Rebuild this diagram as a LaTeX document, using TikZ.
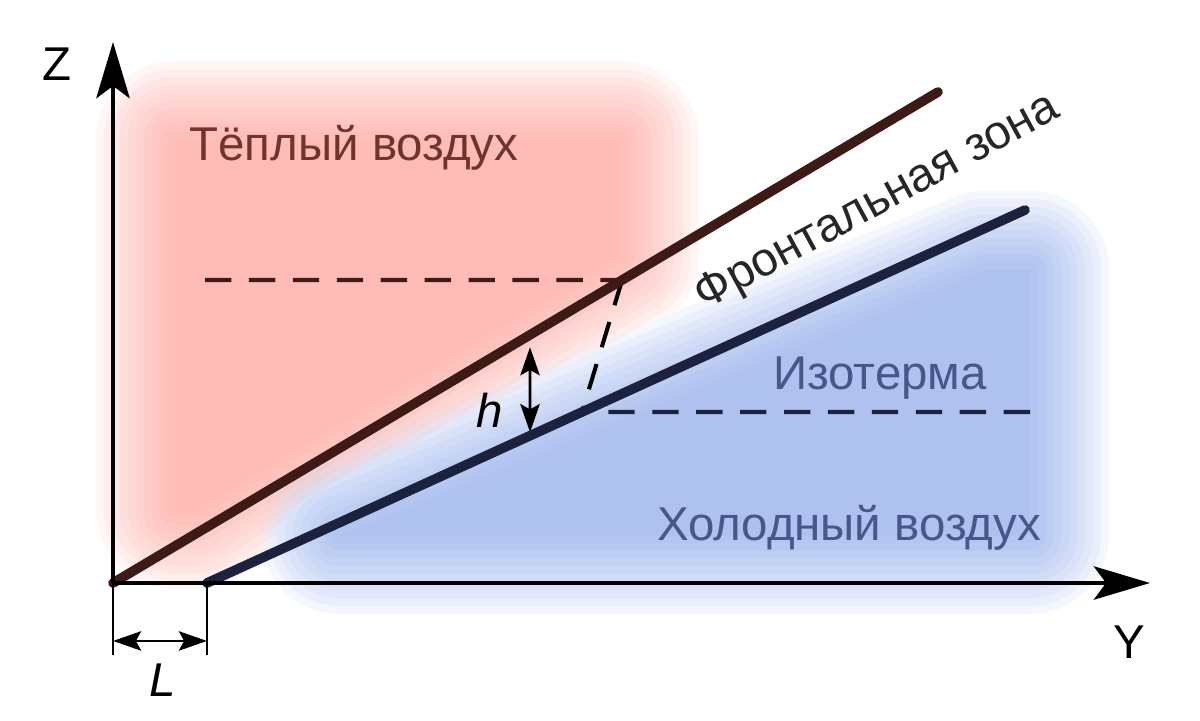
\documentclass[tikz,border=0pt]{standalone}
\usepackage{fontspec}
\setmainfont{Liberation Sans}
\usepackage{tikz}
\usetikzlibrary{arrows.meta}
\usepackage{xcolor}
\definecolor{warmair}{RGB}{255,140,130}
\definecolor{coldair}{RGB}{118,150,228}
\definecolor{warmline}{RGB}{62,26,22}
\definecolor{coldline}{RGB}{28,34,62}
\definecolor{warmtext}{RGB}{112,52,46}
\definecolor{coldtext}{RGB}{72,86,140}
\tikzset{
    axisline/.style={line width=2.2pt, -{Stealth[length=32pt, width=19pt, inset=7pt]}},
    frontline/.style={line width=5.5pt, line cap=round},
    levelline/.style={line width=2.3pt, dash pattern=on 15pt off 10pt},
    dimline/.style={line width=1.6pt, {Stealth[length=16pt, width=11pt, inset=3pt]}-{Stealth[length=16pt, width=11pt, inset=3pt]}},
    airlabel/.style={font=\fontsize{27}{32}\selectfont},
    axislabel/.style={font=\fontsize{27}{32}\selectfont},
}

\begin{document}
\begin{tikzpicture}[x=0.02cm, y=-0.02cm]
        \useasboundingbox (0,0) rectangle (1200,720);
        \foreach \w in {90,81,...,0} {
            \begin{scope}[transparency group, opacity=0.08]
                \filldraw [warmair, line width=\w pt, line join=round] (175,140) -- (620,140) -- (620,255) -- (195,510) -- (175,510) -- cycle;
                \filldraw [coldair, line width=\w pt, line join=round] (340,535) -- (1030,535) -- (1030,270) -- (985,270) -- cycle;
            \end{scope}
        }
        \coordinate (O) at (113,583);
        \coordinate (S) at (207,583);
        \coordinate (U) at (938,92);
        \coordinate (W) at (1025,210);
        \coordinate (Ztip) at (113,42);
        \coordinate (Ytip) at (1150,583);
        \coordinate (warmA) at (205,280);
        \coordinate (warmB) at (intersection of O--U and warmA--{(1000,280)});
        \coordinate (coldB) at (1030,412);
        \coordinate (coldA) at (intersection of S--W and coldB--{(300,412)});
        \coordinate (hTop) at (intersection of O--U and {(530,0)}--{(530,700)});
        \coordinate (hBot) at (intersection of S--W and {(530,0)}--{(530,700)});
        \draw [levelline, warmline] (warmA) -- (warmB);
        \draw [levelline, coldline] (coldB) -- ([xshift=13pt]coldA);
        \draw [levelline, black] (warmB) -- (coldA);
        \draw [dimline] ([yshift=-7pt]hTop) -- ([yshift=2pt]hBot);
        \draw [frontline, warmline] (O) -- (U);
        \draw [frontline, coldline] (S) -- (W);
        \draw [axisline] (O) -- (Ztip);
        \draw [axisline] (O) -- (Ytip);
        \draw [line width=1.2pt] (O) -- ++(0,72) coordinate (Lleft);
        \draw [line width=1.2pt] (S) -- ++(0,72) coordinate (Lright);
        \draw [dimline] ([yshift=8pt]Lleft) -- ([yshift=8pt]Lright);
        \node [axislabel] (zlabel) at (57,64) {Z};
        \node [axislabel] (ylabel) at (1129,642) {Y};
        \node [axislabel] (llabel) at (163,680) {\itshape L};
        \node [axislabel] (hlabel) at (490,410) {\itshape h};
        \node [airlabel, warmtext] (warm) at (354,148) {Тёплый воздух};
        \node [airlabel, black!85, rotate=28.5] (front) at (878,203) {Фронтальная зона};
        \node [airlabel, coldtext] (isotherm) at (880,378) {Изотерма};
        \node [airlabel, coldtext] (cold) at (849,528) {Холодный воздух};
    \end{tikzpicture}
\end{document}
